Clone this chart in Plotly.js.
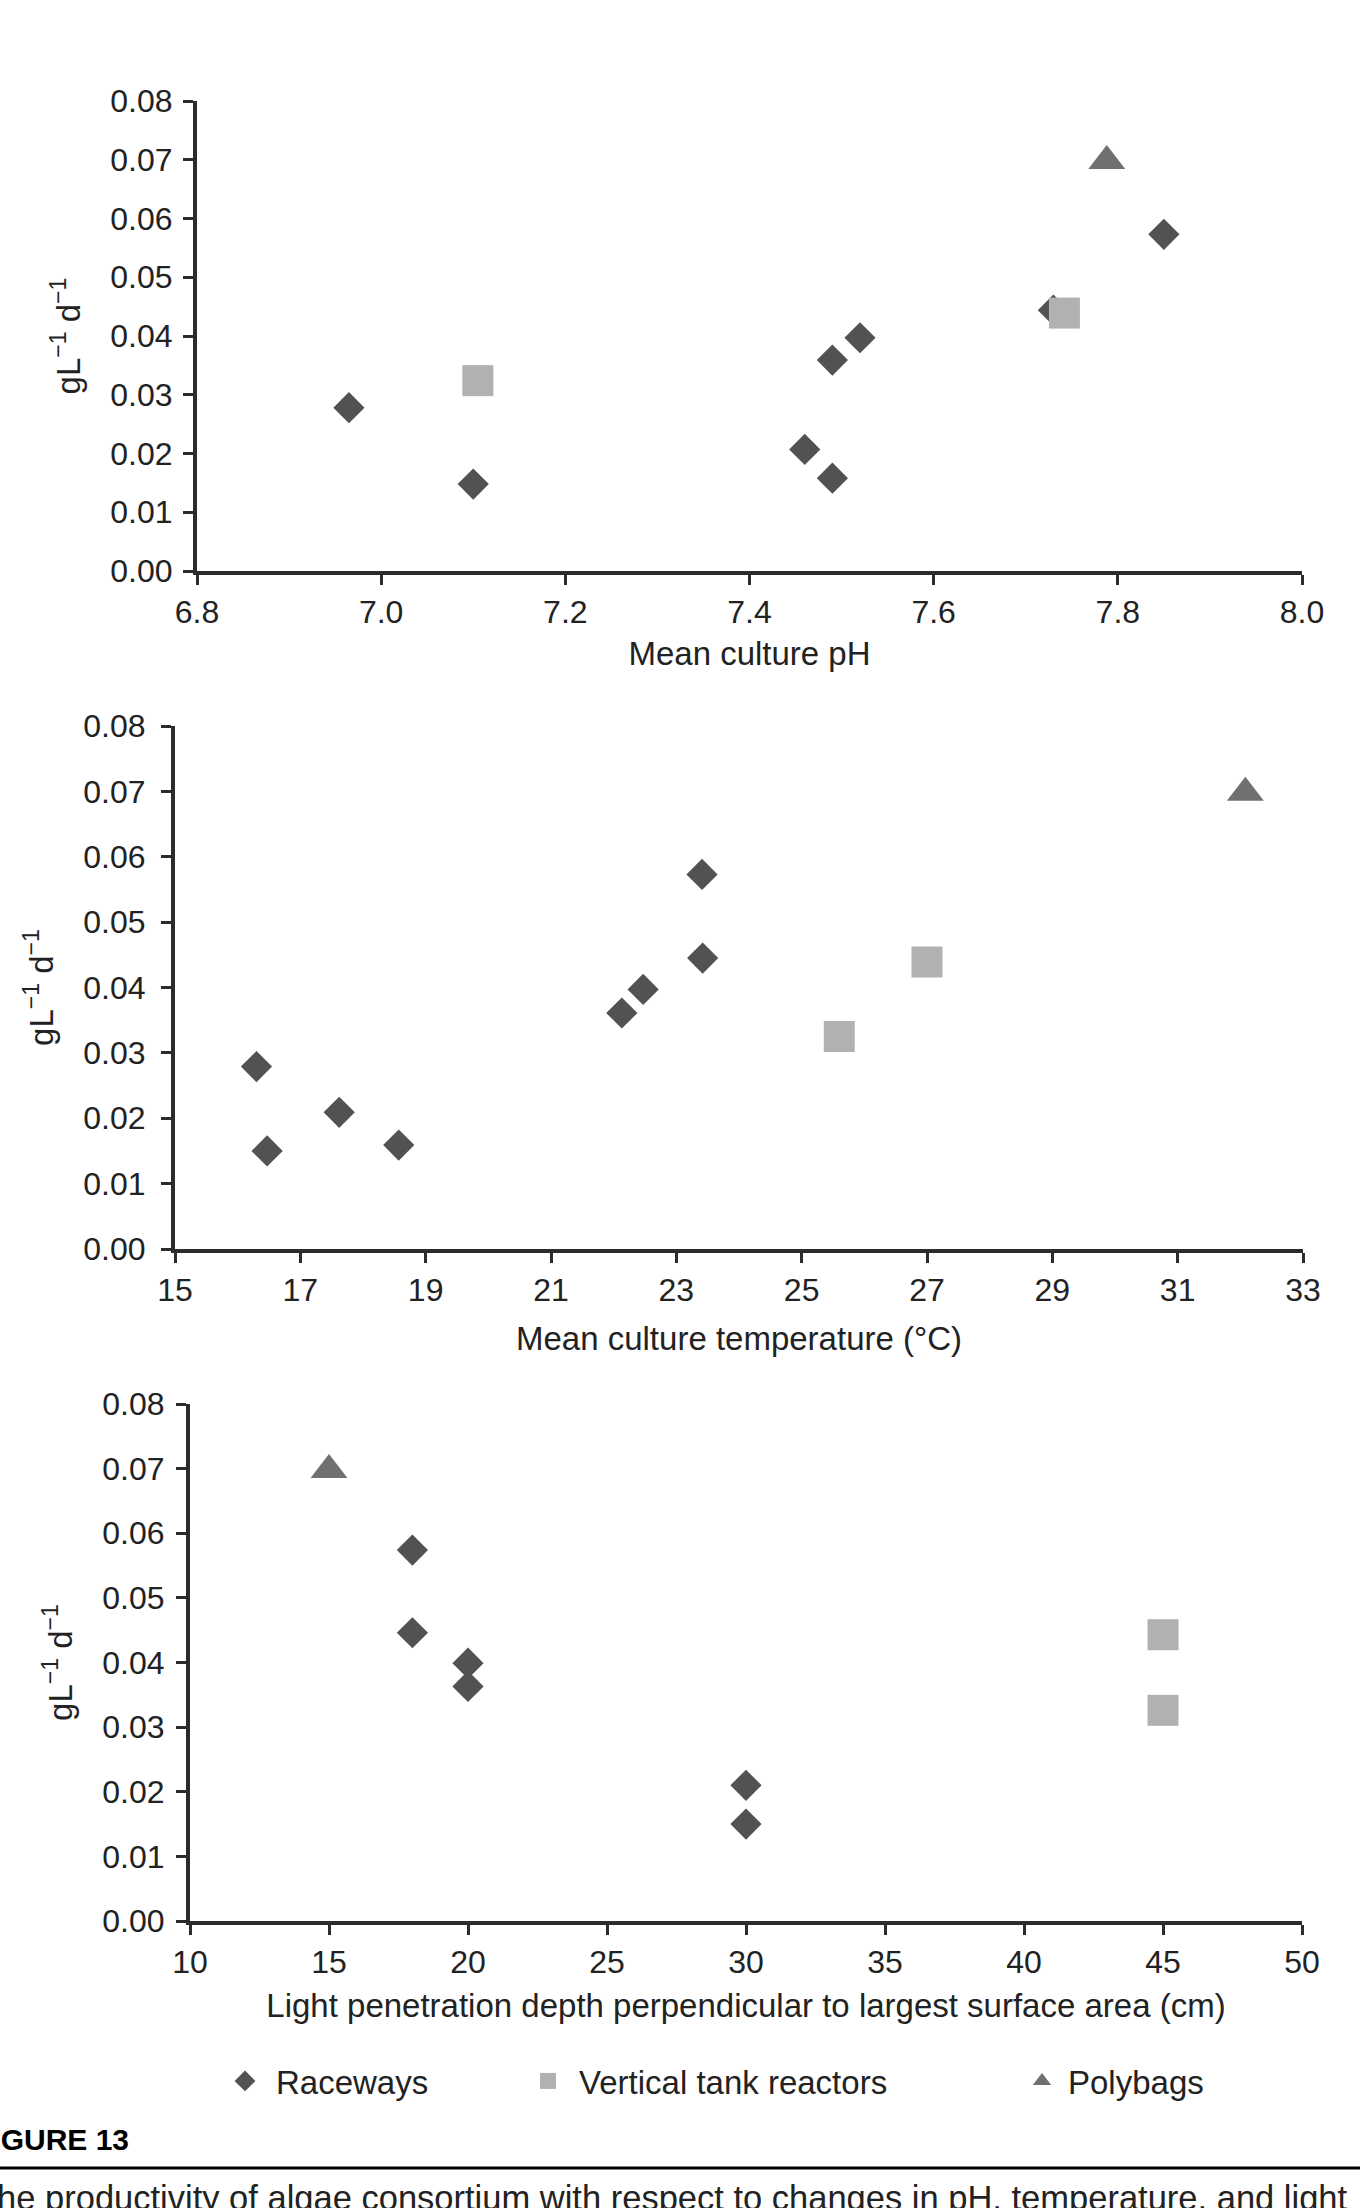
<!DOCTYPE html>
<html>
<head>
<meta charset="utf-8">
<script src="https://cdn.plot.ly/plotly-3.0.1.min.js"></script>
<style>
  body { margin: 0; padding: 0; background: #fff; overflow: hidden; }
  #plot { width: 1360px; height: 2208px; }
</style>
</head>
<body>
<div id="plot"></div>
<script>
//          series names
var names = ['Raceways', 'Vertical tank reactors', 'Polybags'];

//          panel 1 : mean culture pH
var phRaceX = [6.965, 7.10, 7.46, 7.49, 7.49, 7.52, 7.73, 7.85];
var phRaceY = [0.0278, 0.0148, 0.0207, 0.0158, 0.0359, 0.0397, 0.0444, 0.0573];
var phTankX = [7.105, 7.742];
var phTankY = [0.0324, 0.0439];
var phBagX = [7.788];
var phBagY = [0.0698];

//          panel 2 : mean culture temperature
var tempRaceX = [16.3, 16.47, 17.62, 18.57, 22.13, 22.47, 23.41, 23.42];
var tempRaceY = [0.0279, 0.0150, 0.0209, 0.0159, 0.0361, 0.0397, 0.0573, 0.0445];
var tempTankX = [25.6, 27.0];
var tempTankY = [0.0325, 0.0439];
var tempBagX = [32.08];
var tempBagY = [0.0698];

//          panel 3 : light penetration depth
var depthRaceX = [18, 18, 20, 20, 30, 30];
var depthRaceY = [0.0574, 0.0446, 0.0399, 0.0363, 0.0210, 0.0150];
var depthTankX = [45, 45];
var depthTankY = [0.0443, 0.0326];
var depthBagX = [15];
var depthBagY = [0.0698];

//          axis texts
var xTitles = ['Mean culture pH', 'Mean culture temperature (°C)',
               'Light penetration depth perpendicular to largest surface area (cm)'];
var yTitle = 'gL<sup>−1</sup> d<sup>−1</sup>';
var figLabel = 'FIGURE 13';
var caption = 'The productivity of algae consortium with respect to changes in pH, temperature, and light';

var W = 1360;
var H = 2208;
var ink = '#222';
var axisInk = '#2b2b2b';
var font = 'Liberation Sans, Arial, sans-serif';

var styles = [
  {symbol: 'diamond', color: '#525252', size: 24},
  {symbol: 'square', color: '#b1b1b1', size: 31},
  {symbol: 'triangle-up', color: '#707070', size: 32}
];

function px(x) { return x / W; }
function py(y) { return 1 - y / H; }

function series(x, y, k, panel)
{
  var s = styles[k];
  var suffix = panel == 1 ? '' : panel;
  return {
    x: x, y: y,
    type: 'scatter',
    mode: 'markers',
    name: names[k],
    xaxis: 'x' + suffix,
    yaxis: 'y' + suffix,
    legend: k == 0 ? 'legend' : 'legend' + (k + 1),
    showlegend: panel == 1,
    marker: {symbol: s.symbol, color: s.color, size: s.size, line: {width: 0}},
    hoverinfo: 'x+y'
  };
}

var traces = [
  series(phRaceX, phRaceY, 0, 1),
  series(phTankX, phTankY, 1, 1),
  series(phBagX, phBagY, 2, 1),
  series(tempRaceX, tempRaceY, 0, 2),
  series(tempTankX, tempTankY, 1, 2),
  series(tempBagX, tempBagY, 2, 2),
  series(depthRaceX, depthRaceY, 0, 3),
  series(depthTankX, depthTankY, 1, 3),
  series(depthBagX, depthBagY, 2, 3)
];

function xAxis(domain, range, dtick, fmt, title, anchor, standoff)
{
  return {
    domain: domain, range: range, dtick: dtick, tick0: range[0], tickformat: fmt,
    anchor: anchor,
    showgrid: false, zeroline: false,
    showline: true, linecolor: axisInk, linewidth: 4,
    ticks: 'outside', ticklen: 10, tickwidth: 3, tickcolor: axisInk,
    tickfont: {family: font, size: 32, color: ink},
    title: {text: title, standoff: standoff, font: {family: font, size: 33, color: ink}}
  };
}

function yAxis(domain, anchor, labelGap)
{
  return {
    domain: domain, range: [0, 0.08], dtick: 0.01, tick0: 0, tickformat: '.2f',
    anchor: anchor,
    showgrid: false, zeroline: false,
    showline: true, linecolor: axisInk, linewidth: 4,
    ticks: 'outside', ticklen: 10, tickwidth: 3, tickcolor: axisInk,
    ticklabelstandoff: labelGap,
    tickfont: {family: font, size: 32, color: ink},
    title: {text: yTitle, standoff: 21, font: {family: font, size: 33, color: ink}}
  };
}

function legendAt(x, itemwidth)
{
  return {
    xref: 'container', yref: 'container',
    x: x, y: py(2081), xanchor: 'left', yanchor: 'middle',
    orientation: 'h', itemwidth: itemwidth,
    bgcolor: 'rgba(0,0,0,0)', borderwidth: 0,
    font: {family: font, size: 33, color: ink}
  };
}

var layout = {
  width: W, height: H,
  margin: {l: 0, r: 0, t: 0, b: 0, autoexpand: false},
  paper_bgcolor: '#fff', plot_bgcolor: '#fff',
  font: {family: font, color: ink},

  xaxis:  xAxis([px(197), px(1302)], [6.8, 8.0], 0.2, '.1f', xTitles[0], 'y', 13),
  yaxis:  yAxis([py(571), py(101)], 'x', 4),
  xaxis2: xAxis([px(175), px(1303)], [15, 33], 2, 'd', xTitles[1], 'y2', 20),
  yaxis2: yAxis([py(1249), py(726)], 'x2', 9),
  xaxis3: xAxis([px(190), px(1302)], [10, 50], 5, 'd', xTitles[2], 'y3', 16),
  yaxis3: yAxis([py(1921), py(1404)], 'x3', 5),

  legend:  legendAt(px(245 - 31), 52),
  legend2: legendAt(px(548 - 31), 52),
  legend3: legendAt(px(1042 - 26), 42),

  shapes: [
    {type: 'line', xref: 'paper', yref: 'paper', x0: 0, x1: 1, y0: py(2168), y1: py(2168),
     line: {color: '#000', width: 3}}
  ],

  // the source page is cropped: label and caption run off the left and bottom edges
  annotations: [
    {text: figLabel, xref: 'paper', yref: 'paper', x: px(-28), y: py(2139),
     xanchor: 'left', yanchor: 'middle', showarrow: false,
     font: {family: font, size: 30, color: '#000', weight: 'bold'}},
    {text: caption, xref: 'paper', yref: 'paper', x: px(-26), y: py(2177),
     xanchor: 'left', yanchor: 'top', showarrow: false,
     font: {family: font, size: 34.5, color: ink}}
  ]
};

Plotly.newPlot(document.getElementById('plot'), traces, layout, {staticPlot: true});
</script>
</body>
</html>
